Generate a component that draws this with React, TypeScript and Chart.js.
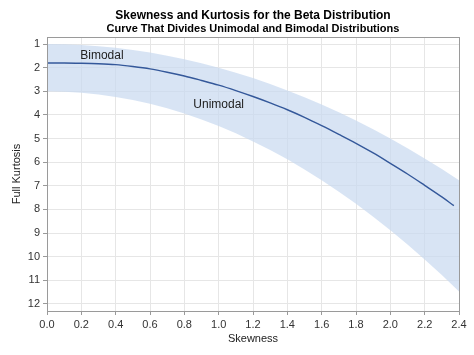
import React, { useEffect, useRef } from "react";
import { Chart, registerables } from "chart.js";

Chart.register(...registerables);

const skewGrid = [0, 0.1, 0.2, 0.3, 0.4, 0.5, 0.6, 0.7, 0.8, 0.9, 1.0, 1.1, 1.2, 1.3, 1.4, 1.5, 1.6, 1.7, 1.8, 1.9, 2.0, 2.1, 2.2, 2.3, 2.4];
const bandTop = [1.0, 1.01, 1.04, 1.09, 1.16, 1.25, 1.36, 1.49, 1.64, 1.81, 2.0, 2.21, 2.44, 2.69, 2.96, 3.25, 3.56, 3.89, 4.24, 4.61, 5.0, 5.41, 5.84, 6.29, 6.76];
const bandBottom = [3.0, 3.02, 3.06, 3.13, 3.24, 3.37, 3.53, 3.72, 3.94, 4.19, 4.47, 4.78, 5.12, 5.48, 5.88, 6.31, 6.76, 7.25, 7.76, 8.31, 8.88, 9.48, 10.12, 10.78, 11.47];
const curveSkew = [0, 0.1, 0.2, 0.3, 0.4, 0.5, 0.6, 0.7, 0.8, 0.9, 1.0, 1.1, 1.2, 1.3, 1.4, 1.5, 1.6, 1.7, 1.8, 1.9, 2.0, 2.1, 2.2, 2.3, 2.37];
const curveKurt = [1.8, 1.8, 1.81, 1.83, 1.87, 1.95, 2.05, 2.19, 2.35, 2.54, 2.74, 2.97, 3.22, 3.49, 3.78, 4.1, 4.45, 4.82, 5.2, 5.61, 6.05, 6.5, 6.98, 7.47, 7.84];
const xTicks = [0, 0.2, 0.4, 0.6, 0.8, 1.0, 1.2, 1.4, 1.6, 1.8, 2.0, 2.2, 2.4];
const yTicks = [1, 2, 3, 4, 5, 6, 7, 8, 9, 10, 11, 12];
const regionLabels = ["Bimodal", "Unimodal"];
const regionLabelX = [0.32, 1.0];
const regionLabelY = [1.5, 3.55];

const FONT = "'Liberation Sans', Arial, sans-serif";

export default function App() {
  const ref = useRef<HTMLCanvasElement | null>(null);
  useEffect(() => {
    document.body.style.margin = "0";
    const frame = {
      id: "frame",
      afterDatasetsDraw(chart: any) {
        const { ctx, chartArea: a, scales } = chart;
        ctx.save();
        ctx.strokeStyle = "#9a9a9a";
        ctx.lineWidth = 1;
        ctx.strokeRect(Math.round(a.left) + 0.5, Math.round(a.top) + 0.5, Math.round(a.right - a.left), Math.round(a.bottom - a.top));
        ctx.fillStyle = "#222";
        ctx.font = `12px ${FONT}`;
        ctx.textAlign = "center";
        ctx.textBaseline = "middle";
        regionLabels.forEach((t, i) => {
          ctx.fillText(t, scales.x.getPixelForValue(regionLabelX[i]), scales.y.getPixelForValue(regionLabelY[i]));
        });
        ctx.restore();
      },
    };
    const chart = new Chart(ref.current!, {
      type: "line",
      data: {
        datasets: [
          {
            data: curveSkew.map((x, i) => ({ x, y: curveKurt[i] })),
            borderColor: "#34589a",
            borderWidth: 1.4,
            pointRadius: 0,
            fill: false,
            cubicInterpolationMode: "monotone",
          },
          {
            data: skewGrid.map((x, i) => ({ x, y: bandTop[i] })),
            borderWidth: 0,
            borderColor: "rgba(0,0,0,0)",
            pointRadius: 0,
            backgroundColor: "rgba(200,217,239,0.7)",
            fill: "+1",
            tension: 0,
          },
          {
            data: skewGrid.map((x, i) => ({ x, y: bandBottom[i] })),
            borderWidth: 0,
            borderColor: "rgba(0,0,0,0)",
            pointRadius: 0,
            fill: false,
            tension: 0,
          },
        ],
      },
      options: {
        animation: false,
        responsive: false,
        layout: { padding: { left: 0, right: 15, top: 0, bottom: 0 } },
        plugins: {
          legend: { display: false },
          tooltip: { enabled: false },
          title: {
            display: true,
            text: "Skewness and Kurtosis for the Beta Distribution",
            color: "#000",
            font: { family: FONT, size: 12, weight: "bold" },
            padding: { top: 8, bottom: 0 },
            fullSize: false,
          },
          subtitle: {
            display: true,
            text: "Curve That Divides Unimodal and Bimodal Distributions",
            color: "#000",
            font: { family: FONT, size: 11, weight: "bold" },
            padding: { top: 0, bottom: 1.4 },
            fullSize: false,
          },
        },
        scales: {
          x: {
            type: "linear",
            min: 0,
            max: 2.4,
            afterBuildTicks: (s: any) => {
              s.ticks = xTicks.map((v) => ({ value: v }));
            },
            afterFit: (s: any) => {
              s.height = 44;
            },
            ticks: {
              color: "#333",
              font: { family: FONT, size: 11 },
              maxRotation: 0,
              padding: 3,
              callback: (v: any) => Number(v).toFixed(1),
            },
            grid: { color: "#e6e6e6", tickColor: "#9a9a9a", tickLength: 4 },
            border: { display: false },
            title: {
              display: true,
              text: "Skewness",
              color: "#222",
              font: { family: FONT, size: 11 },
              padding: { top: 2, bottom: 9 },
            },
          },
          y: {
            type: "linear",
            reverse: true,
            min: 0.7,
            max: 12.3,
            afterBuildTicks: (s: any) => {
              s.ticks = yTicks.map((v) => ({ value: v }));
            },
            afterFit: (s: any) => {
              s.width = 47;
            },
            ticks: {
              color: "#333",
              font: { family: FONT, size: 11 },
              padding: 3,
              callback: (v: any) => String(v),
            },
            grid: { color: "#e6e6e6", tickColor: "#9a9a9a", tickLength: 4 },
            border: { display: false },
            title: {
              display: true,
              text: "Full Kurtosis",
              color: "#222",
              font: { family: FONT, size: 11 },
              padding: { top: 10, bottom: 4 },
            },
          },
        },
      },
      plugins: [frame],
    } as any);
    return () => chart.destroy();
  }, []);
  return <canvas ref={ref} width={474} height={355} style={{ display: "block" }} />;
}
